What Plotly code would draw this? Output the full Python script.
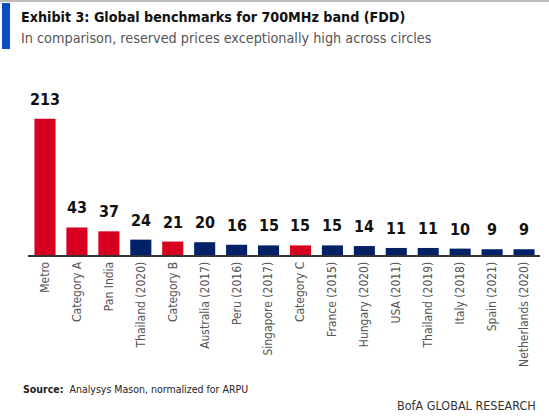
import plotly.graph_objects as go

categories = ["Metro", "Category A", "Pan India", "Thailand (2020)", "Category B",
              "Australia (2017)", "Peru (2016)", "Singapore (2017)", "Category C",
              "France (2015)", "Hungary (2020)", "USA (2011)", "Thailand (2019)",
              "Italy (2018)", "Spain (2021)", "Netherlands (2020)"]
values = [213, 43, 37, 24, 21, 20, 16, 15, 15, 15, 14, 11, 11, 10, 9, 9]
is_india = [True, True, True, False, True, False, False, False, True,
            False, False, False, False, False, False, False]

RED = "#D7001E"
NAVY = "#012169"
colors = [RED if f else NAVY for f in is_india]

FONT = "DejaVu Sans Condensed, Roboto Condensed, Roboto, sans-serif"
W, H = 549, 420

fig = go.Figure(go.Bar(x=categories, y=values, marker=dict(color=colors, line=dict(width=0)),
                       width=0.66))

for c, v in zip(categories, values):
    fig.add_annotation(x=c, y=v, text=f"<b>{v}</b>", showarrow=False, yanchor="bottom",
                       yshift=8, font=dict(family=FONT, size=16, color="#111"))

fig.update_layout(
    width=W, height=H,
    margin=dict(l=28, r=9, t=95, b=165),
    paper_bgcolor="white", plot_bgcolor="white",
    showlegend=False,
    xaxis=dict(showline=True, linecolor="#333", linewidth=2, ticks="", tickangle=-90,
               tickfont=dict(family=FONT, size=12, color="#555"), showgrid=False),
    yaxis=dict(range=[0, 250], visible=False, showgrid=False),
)

fig.add_shape(type="rect", xref="paper", yref="paper",
              x0=(2-28)/(W-37), x1=(10-28)/(W-37),
              y0=1 + (95-49)/160, y1=1 + (95-3)/160,
              line=dict(width=0), fillcolor="#0B4DC0")
fig.add_shape(type="line", xref="paper", yref="paper",
              x0=(0-28)/(W-37), x1=(W-28)/(W-37), y0=1+(95-1)/160, y1=1+(95-1)/160,
              line=dict(color="#BBBBBB", width=2))

def ann(text, x, y, size, color, anchor="left", family=FONT):
    fig.add_annotation(text=text, xref="paper", yref="paper",
                       x=(x-28)/(W-37), y=1 + (95-y)/160, xanchor=anchor, yanchor="middle",
                       showarrow=False, font=dict(family=family, size=size, color=color))

ann("<b>Exhibit 3: Global benchmarks for 700MHz band (FDD)</b>", 19, 17, 14.2, "#111")
ann("In comparison, reserved prices exceptionally high across circles", 19, 38, 14.3, "#555")
ann("<b>Source:</b>  Analysys Mason, normalized for ARPU", 21, 389, 10.5, "#222")
ann("BofA GLOBAL RESEARCH", 538, 405, 12.5, "#333", anchor="right")

fig.write_html("out.html")
